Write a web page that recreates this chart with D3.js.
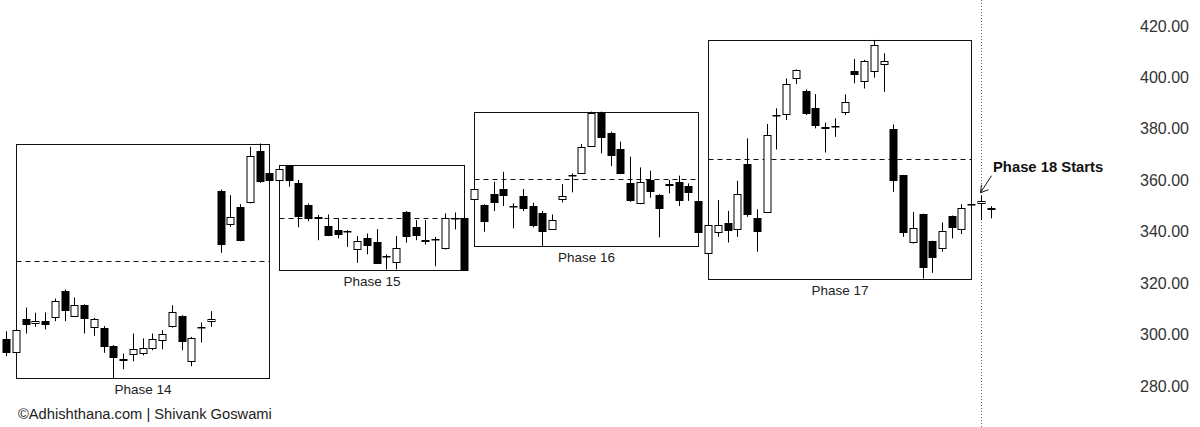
<!DOCTYPE html>
<html>
<head>
<meta charset="utf-8">
<script src="https://cdn.jsdelivr.net/npm/d3@7"></script>
<style>
  html, body { margin: 0; padding: 0; background: #fff; }
  svg { display: block; font-family: "Liberation Sans", Arial, sans-serif; }
</style>
</head>
<body>
<svg id="chart" width="1200" height="427"></svg>
<script>
// ---- Data ----
const opens  = [298.1,293.3,306.2,304.5,305.2,306.9,316.9,307.3,311.4,303.0,302.7,295.6,290.5,292.4,292.9,294.6,297.8,303.3,307.3,289.8,302.8,305.2,
  355.8,343.0,349.7,351.6,371.5,362.9,
  360.1,365.9,359.0,350.4,345.6,342.3,340.6,340.4,333.2,337.4,336.1,330.6,328.3,347.8,341.7,336.7,337.0,333.8,345.5,345.4,
  352.8,350.4,354.5,356.8,350.1,353.9,350.1,347.4,340.9,352.7,362.1,362.9,373.3,386.7,378.2,372.0,358.8,351.0,360.1,354.2,358.3,359.2,357.9,351.9,
  331.8,340.0,343.5,340.9,366.2,345.4,347.8,385.3,385.6,399.6,394.8,388.3,380.6,381.0,386.4,402.6,398.7,402.5,405.1,379.9,362.0,336.1,346.8,336.3,333.5,346.1,341.0,350.6,
  351.3,349.2];
const highs  = [301.3,302.0,310.5,308.5,308.6,314.0,317.5,314.4,311.8,306.5,303.3,295.9,292.6,300.4,298.5,300.4,301.7,311.4,307.5,299.1,304.7,309.1,
  356.4,354.2,350.7,373.0,374.3,363.2,
  364.5,365.9,360.1,351.0,346.5,346.7,345.2,340.6,338.3,339.3,341.0,331.2,338.3,348.0,344.5,344.5,338.0,347.1,347.5,345.8,
  357.0,350.7,359.4,363.3,351.0,356.6,351.3,348.1,346.7,358.5,362.7,374.1,386.7,386.7,378.9,375.0,369.2,365.0,363.7,354.6,360.1,361.8,358.8,352.0,
  343.0,352.3,348.1,359.8,376.3,348.7,381.9,388.0,399.6,403.1,395.3,393.5,382.4,384.1,393.4,407.2,406.8,414.6,409.4,381.7,362.1,347.7,347.0,336.5,343.6,346.3,350.7,351.0,
  354.0,349.9];
const lows   = [291.6,293.0,300.4,303.0,302.0,305.2,305.2,306.9,300.4,299.5,292.9,283.0,286.5,289.6,291.9,293.9,294.3,302.7,293.9,287.7,296.9,303.0,
  331.8,341.9,336.3,351.0,359.0,359.8,
  359.8,357.5,341.7,344.1,336.7,338.3,337.4,334.1,327.9,331.2,328.0,325.3,325.3,335.7,336.7,335.0,326.6,333.1,340.9,325.0,
  352.6,340.0,348.0,350.0,341.3,348.0,341.7,334.5,340.8,351.4,355.3,362.7,373.0,370.5,365.5,362.4,351.6,350.7,353.2,337.8,354.9,350.0,352.0,340.0,
  331.5,338.0,335.8,338.0,345.8,332.2,347.5,372.0,383.4,397.4,385.4,380.2,370.8,376.9,385.4,397.7,395.7,399.9,394.4,355.5,338.0,335.4,321.8,324.0,332.2,337.4,339.1,350.4,
  344.5,345.2];
const closes = [293.3,301.7,304.0,305.1,304.0,313.1,309.5,311.6,306.6,305.9,295.5,291.3,290.0,294.3,294.6,298.1,300.4,308.8,297.5,298.5,303.0,306.2,
  335.2,345.8,336.7,369.4,359.7,360.1,
  364.2,360.3,346.2,345.5,345.3,338.7,339.3,340.1,336.5,334.8,328.0,330.4,333.5,338.3,338.7,336.4,337.3,345.4,345.3,325.0,
  356.8,344.2,351.4,354.2,349.9,349.4,342.6,340.4,344.5,354.0,361.9,372.8,386.0,376.7,369.8,362.7,352.3,359.2,355.9,349.4,358.5,352.3,355.3,340.0,
  342.8,342.6,340.6,354.5,346.8,340.4,377.8,385.5,397.4,402.9,386.0,381.5,380.3,381.3,390.3,401.3,406.4,412.6,406.4,360.1,340.0,341.5,326.1,330.0,340.4,341.7,349.4,350.8,
  352.0,348.9];

const phaseNames = ["Phase 14", "Phase 15", "Phase 16", "Phase 17"];
const phaseStart = [1, 28, 48, 72];
const phaseEnd   = [27, 47, 71, 99];

const yTicks = [280, 300, 320, 340, 360, 380, 400, 420];
const annotationText = "Phase 18 Starts";
const annotationIndex = 100;
const footerText = "\u00A9Adhishthana.com | Shivank Goswami";

// ---- Chart ----
const svg = d3.select("#chart");
const n = opens.length;
const x = d3.scaleLinear().domain([0, n - 1]).range([6, 990.75]);
const y = d3.scaleLinear().domain([280, 420]).range([386, 26]);
const cx = i => Math.round(x(i)) + 0.5;
const py = v => Math.round(y(v)) + 0.5;
const bodyW = 7;

// y axis labels
const yAxis = d3.axisRight(y).tickValues(yTicks).tickSize(0).tickPadding(0).tickFormat(d3.format(".2f"));
const gy = svg.append("g").attr("transform", "translate(1140,0)").call(yAxis);
gy.select(".domain").remove();
gy.selectAll("text").attr("font-size", 16).attr("fill", "#333").attr("font-family", "Liberation Sans, Arial, sans-serif");

// phase boxes
const phases = phaseNames.map((name, k) => {
  const idx = d3.range(phaseStart[k], phaseEnd[k] + 1);
  return {
    name,
    x0: cx(phaseStart[k]), x1: cx(phaseEnd[k]),
    hi: d3.max(idx, i => highs[i]), lo: d3.min(idx, i => lows[i])
  };
});
const gp = svg.append("g");
gp.selectAll("rect.box").data(phases).join("rect")
  .attr("class", "box")
  .attr("x", d => d.x0).attr("width", d => d.x1 - d.x0)
  .attr("y", d => py(d.hi)).attr("height", d => py(d.lo) - py(d.hi))
  .attr("fill", "none").attr("stroke", "#111").attr("stroke-width", 1);
gp.selectAll("line.mid").data(phases).join("line")
  .attr("class", "mid")
  .attr("x1", d => d.x0).attr("x2", d => d.x1)
  .attr("y1", d => py((d.hi + d.lo) / 2)).attr("y2", d => py((d.hi + d.lo) / 2))
  .attr("stroke", "#111").attr("stroke-width", 1).attr("stroke-dasharray", "5,4");
gp.selectAll("text.plabel").data(phases).join("text")
  .attr("class", "plabel")
  .attr("x", d => (d.x0 + d.x1) / 2).attr("y", d => py(d.lo) + 15.5)
  .attr("text-anchor", "middle").attr("font-size", 13.5).attr("fill", "#222")
  .text(d => d.name);

// dotted vertical line at phase 18 start
svg.append("line")
  .attr("x1", cx(annotationIndex)).attr("x2", cx(annotationIndex))
  .attr("y1", 0).attr("y2", 427)
  .attr("stroke", "#666").attr("stroke-width", 1).attr("stroke-dasharray", "1,2");

// candles
const data = d3.range(n).map(i => ({ i, o: opens[i], h: highs[i], l: lows[i], c: closes[i] }));
const gc = svg.append("g");
gc.selectAll("line.wick").data(data).join("line")
  .attr("class", "wick")
  .attr("x1", d => cx(d.i)).attr("x2", d => cx(d.i))
  .attr("y1", d => y(d.h)).attr("y2", d => y(d.l))
  .attr("stroke", "#000").attr("stroke-width", 1);
gc.selectAll("rect.body").data(data).join("rect")
  .attr("class", "body")
  .attr("x", d => cx(d.i) - bodyW / 2)
  .attr("width", bodyW)
  .attr("y", d => Math.round(y(Math.max(d.o, d.c))) + 0.5)
  .attr("height", d => Math.max(0.5, Math.round(y(Math.min(d.o, d.c))) - Math.round(y(Math.max(d.o, d.c)))))
  .attr("fill", d => d.c > d.o ? "#fff" : "#000")
  .attr("stroke", "#000").attr("stroke-width", 1);

// annotation
const ax = cx(annotationIndex), ayv = y(highs[annotationIndex]);
svg.append("text")
  .attr("x", 993).attr("y", 172)
  .attr("font-size", 14.8).attr("font-weight", "bold").attr("fill", "#111")
  .text(annotationText);
const tipX = ax - 1, tipY = ayv - 3;
svg.append("line")
  .attr("x1", tipX + 11).attr("y1", tipY - 17)
  .attr("x2", tipX).attr("y2", tipY)
  .attr("stroke", "#111").attr("stroke-width", 1);
svg.append("path")
  .attr("d", `M${tipX + 1},${tipY - 8} L${tipX},${tipY} L${tipX + 8},${tipY - 3}`)
  .attr("fill", "none").attr("stroke", "#111").attr("stroke-width", 1);

// footer
svg.append("text")
  .attr("x", 18).attr("y", 419)
  .attr("font-size", 14.7).attr("fill", "#222")
  .text(footerText);
</script>
</body>
</html>
